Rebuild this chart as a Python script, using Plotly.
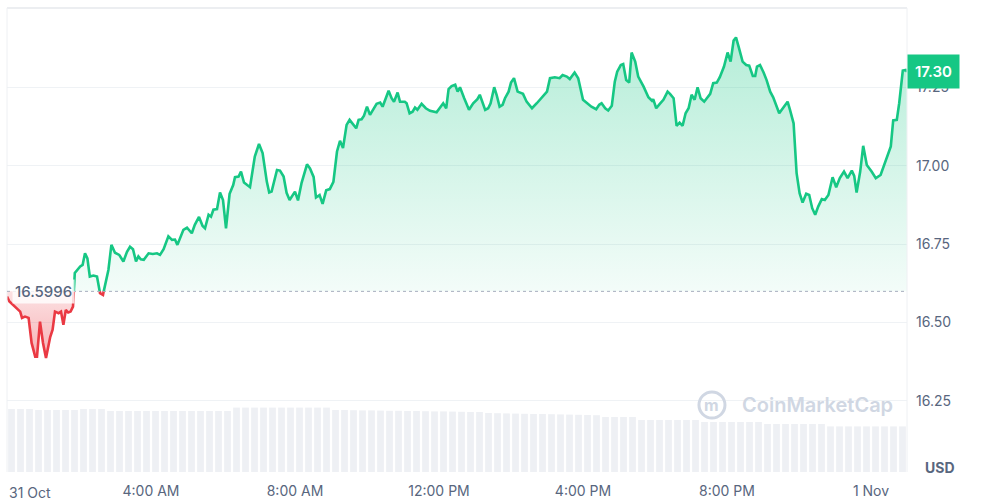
import pandas as pd
import plotly.graph_objects as go

# ---------------- data ----------------
start_time = "2024-10-31 00:00"
# minutes after 31 Oct 00:00
minutes = [0, 4, 22, 25, 30, 36, 41, 47, 50, 55, 60, 65, 72, 76, 80, 86, 90, 94, 98, 102,
           106, 110, 113, 122, 126, 130, 134, 138, 144, 150, 155, 160, 165, 169, 174, 180, 187, 194, 200, 205,
           210, 215, 219, 223, 228, 236, 243, 250, 255, 261, 269, 275, 280, 284, 294, 300, 308, 313, 320, 326,
           330, 336, 340, 344, 350, 355, 360, 365, 371, 377, 380, 386, 390, 395, 405, 413, 420, 426, 433, 437,
           441, 450, 455, 461, 466, 471, 480, 485, 491, 500, 505, 511, 515, 521, 526, 532, 538, 544, 550, 555,
           560, 566, 571, 576, 582, 586, 591, 595, 600, 605, 611, 616, 622, 626, 636, 641, 645, 651, 655, 663,
           666, 671, 676, 680, 684, 691, 698, 705, 716, 723, 727, 732, 736, 741, 747, 751, 755, 762, 770, 777,
           784, 788, 797, 802, 806, 812, 816, 821, 826, 830, 836, 840, 845, 851, 860, 866, 875, 883, 891, 900,
           905, 913, 921, 926, 933, 938, 946, 952, 960, 969, 974, 982, 987, 991, 997, 1002, 1008, 1013, 1017, 1023,
           1027, 1032, 1037, 1041, 1047, 1052, 1061, 1069, 1075, 1077, 1082, 1088, 1094, 1101, 1105, 1111, 1116, 1121, 1126, 1131,
           1136, 1141, 1146, 1151, 1156, 1162, 1167, 1172, 1177, 1183, 1188, 1195, 1201, 1206, 1211, 1215, 1220, 1226, 1232, 1237,
           1243, 1247, 1250, 1255, 1261, 1266, 1272, 1277, 1287, 1293, 1301, 1305, 1311, 1316, 1321, 1326, 1332, 1337, 1342, 1347,
           1352, 1358, 1363, 1369, 1376, 1382, 1388, 1395, 1401, 1408, 1412, 1416, 1422, 1427, 1433, 1441, 1448, 1456, 1461, 1466,
           1473, 1477, 1483, 1487, 1493, 1498, 1500]
prices = [16.583, 16.567, 16.535, 16.515, 16.519, 16.515, 16.435, 16.391, 16.391, 16.503, 16.435, 16.387, 16.454, 16.477, 16.535, 16.530, 16.535, 16.493, 16.540, 16.532,
          16.535, 16.551, 16.658, 16.679, 16.684, 16.721, 16.705, 16.647, 16.650, 16.647, 16.594, 16.588, 16.636, 16.668, 16.748, 16.723, 16.716, 16.695, 16.726, 16.742,
          16.734, 16.695, 16.711, 16.702, 16.700, 16.721, 16.719, 16.721, 16.716, 16.734, 16.775, 16.764, 16.765, 16.748, 16.796, 16.803, 16.785, 16.812, 16.837, 16.808,
          16.801, 16.844, 16.838, 16.860, 16.862, 16.915, 16.891, 16.801, 16.911, 16.939, 16.964, 16.966, 16.982, 16.947, 16.932, 17.030, 17.070, 17.041, 16.950, 16.915,
          16.918, 16.987, 16.985, 16.966, 16.914, 16.891, 16.918, 16.890, 16.946, 17.005, 16.992, 16.965, 16.899, 16.907, 16.879, 16.922, 16.926, 16.949, 17.046, 17.080,
          17.057, 17.131, 17.147, 17.134, 17.120, 17.147, 17.149, 17.160, 17.189, 17.163, 17.184, 17.198, 17.202, 17.189, 17.240, 17.216, 17.205, 17.234, 17.205, 17.205,
          17.200, 17.168, 17.173, 17.186, 17.179, 17.198, 17.184, 17.176, 17.171, 17.189, 17.200, 17.184, 17.245, 17.255, 17.259, 17.237, 17.251, 17.216, 17.179, 17.200,
          17.213, 17.227, 17.179, 17.184, 17.200, 17.251, 17.227, 17.189, 17.195, 17.216, 17.237, 17.266, 17.280, 17.237, 17.230, 17.205, 17.184, 17.200, 17.219, 17.237,
          17.280, 17.283, 17.280, 17.290, 17.285, 17.277, 17.298, 17.280, 17.211, 17.195, 17.189, 17.181, 17.195, 17.200, 17.184, 17.177, 17.192, 17.269, 17.301, 17.322,
          17.325, 17.274, 17.266, 17.362, 17.333, 17.285, 17.253, 17.219, 17.208, 17.213, 17.184, 17.198, 17.211, 17.237, 17.230, 17.216, 17.128, 17.138, 17.128, 17.168,
          17.184, 17.227, 17.211, 17.251, 17.216, 17.205, 17.219, 17.230, 17.264, 17.266, 17.283, 17.317, 17.362, 17.333, 17.400, 17.410, 17.376, 17.333, 17.322, 17.320,
          17.287, 17.287, 17.317, 17.322, 17.298, 17.274, 17.237, 17.219, 17.168, 17.184, 17.205, 17.179, 17.136, 16.977, 16.913, 16.883, 16.911, 16.907, 16.865, 16.844,
          16.870, 16.894, 16.891, 16.907, 16.964, 16.932, 16.961, 16.982, 16.961, 16.985, 16.968, 16.915, 16.982, 17.064, 17.003, 16.982, 16.961, 16.971, 16.998, 17.021,
          17.062, 17.145, 17.147, 17.200, 17.304, 17.306, 17.300]
open_price = 16.5996
last_price_label = "17.30"

# volume bars, one per 15 minutes (millions USD, approximate)
volume_step_min = 15
volumes = [31.5, 31.5, 31.5, 31.0, 31.0, 31.0, 31.0, 31.0, 31.5, 31.5,
           31.5, 30.5, 30.5, 30.5, 30.5, 30.5, 30.5, 30.5, 30.5, 30.5,
           30.5, 30.5, 30.5, 30.5, 30.5, 32.2, 32.2, 32.2, 32.2, 32.2,
           32.2, 32.2, 32.2, 32.2, 32.2, 32.2, 31.0, 31.0, 30.9, 30.8,
           30.8, 30.7, 30.6, 30.6, 30.5, 30.5, 30.4, 30.3, 30.3, 30.2,
           30.1, 30.0, 30.0, 29.5, 29.4, 29.3, 29.2, 29.1, 29.0, 29.0,
           28.9, 28.8, 28.7, 28.6, 28.5, 28.4, 27.5, 27.5, 27.5, 27.5,
           26.0, 26.0, 26.0, 26.0, 26.0, 26.0, 26.0, 25.0, 25.0, 25.0,
           25.0, 25.0, 25.0, 25.0, 24.0, 24.0, 24.0, 24.0, 24.0, 24.0,
           24.0, 22.8, 22.8, 22.8, 22.8, 22.8, 22.8, 22.8, 22.8, 22.8]

x_tick_hours = [4, 8, 12, 16, 20, 24]
x_tick_text = ["4:00 AM", "8:00 AM", "12:00 PM", "4:00 PM", "8:00 PM", "1 Nov"]
first_tick_text = "31 Oct"
y_tick_vals = [16.25, 16.50, 16.75, 17.00, 17.25]
y_range = [16.023, 17.504]
vol_range = [0, 232]

# ---------------- styling ----------------
GREEN = "#16c784"
RED = "#ea3943"
TXT = "#58667e"
GRID = "#eff2f5"
FONT = "Inter, 'Noto Sans', sans-serif"
WM = "#d0d7e3"

t0 = pd.Timestamp(start_time)

# split series at the open price (rendering only)
sx, sy = [], []
for i in range(len(prices)):
    if i > 0 and (prices[i - 1] - open_price) * (prices[i] - open_price) < 0:
        t = (open_price - prices[i - 1]) / (prices[i] - prices[i - 1])
        sx.append(minutes[i - 1] + t * (minutes[i] - minutes[i - 1]))
        sy.append(open_price)
    sx.append(minutes[i])
    sy.append(prices[i])

times = [t0 + pd.Timedelta(minutes=m) for m in sx]
up_line = [y if y >= open_price else None for y in sy]
dn_line = [y if y <= open_price else None for y in sy]
up_fill = [max(y, open_price) for y in sy]
dn_fill = [min(y, open_price) for y in sy]
base = [open_price] * len(sy)

vol_times = [t0 + pd.Timedelta(minutes=volume_step_min * (i + 0.5)) for i in range(len(volumes))]

fig = go.Figure()

fig.add_trace(go.Bar(x=vol_times, y=volumes, yaxis="y2", marker_color="#eef0f4",
                     marker_line_width=0, hoverinfo="skip", showlegend=False))

fig.add_trace(go.Scatter(x=times, y=base, mode="lines", line=dict(width=0),
                         hoverinfo="skip", showlegend=False))
fig.add_trace(go.Scatter(x=times, y=up_fill, mode="lines", line=dict(width=0), fill="tonexty",
                         fillgradient=dict(type="vertical", start=open_price, stop=17.45,
                                           colorscale=[[0, "rgba(22,199,132,0.05)"],
                                                       [1, "rgba(22,199,132,0.33)"]]),
                         hoverinfo="skip", showlegend=False))
fig.add_trace(go.Scatter(x=times, y=base, mode="lines", line=dict(width=0),
                         hoverinfo="skip", showlegend=False))
fig.add_trace(go.Scatter(x=times, y=dn_fill, mode="lines", line=dict(width=0), fill="tonexty",
                         fillgradient=dict(type="vertical", start=16.38, stop=open_price,
                                           colorscale=[[0, "rgba(234,57,67,0.40)"],
                                                       [1, "rgba(234,57,67,0.15)"]]),
                         hoverinfo="skip", showlegend=False))

fig.add_trace(go.Scatter(x=times, y=up_line, mode="lines", connectgaps=False,
                         line=dict(color=GREEN, width=2.6), showlegend=False))
fig.add_trace(go.Scatter(x=times, y=dn_line, mode="lines", connectgaps=False,
                         line=dict(color=RED, width=2.6), showlegend=False))

x_end = t0 + pd.Timedelta(minutes=minutes[-1])

fig.update_layout(
    width=1005, height=504,
    margin=dict(l=7, r=98, t=8, b=32, autoexpand=False),
    paper_bgcolor="white", plot_bgcolor="white",
    font=dict(family=FONT, color=TXT, size=14),
    bargap=0.25,
    hovermode=False,
    xaxis=dict(type="date", range=[t0, x_end], automargin=False,
               tickvals=[t0 + pd.Timedelta(hours=h) for h in x_tick_hours],
               ticktext=x_tick_text, showgrid=False, zeroline=False, showline=False,
               ticks="", tickfont=dict(size=14, color=TXT), ticklabelstandoff=9),
    yaxis=dict(side="right", range=y_range, tickvals=y_tick_vals, automargin=False,
               ticktext=[f"{v:.2f}" for v in y_tick_vals],
               showgrid=True, gridcolor=GRID, gridwidth=1, zeroline=False, showline=False,
               ticks="", tickfont=dict(size=14, color=TXT), ticklabelstandoff=8),
    yaxis2=dict(overlaying="y", range=vol_range, visible=False, automargin=False),
)

# frame lines
fig.add_shape(type="line", xref="paper", yref="paper", x0=0, x1=1, y0=1, y1=1,
              line=dict(color="#e6e9ed", width=1.5))
fig.add_shape(type="line", xref="paper", yref="paper", x0=0, x1=0, y0=0, y1=1,
              line=dict(color="#eef0f3", width=1))
fig.add_shape(type="line", xref="paper", yref="paper", x0=1, x1=1, y0=0, y1=1,
              line=dict(color="#eef0f3", width=1))

# dotted open-price line
fig.add_shape(type="line", xref="paper", yref="y", x0=0, x1=1, y0=open_price, y1=open_price,
              line=dict(color="#a6adbd", width=1, dash="dot"), layer="above")

annotations = [
    dict(x=0, xref="paper", y=open_price, yref="y", text=f"{open_price}", showarrow=False,
         xanchor="left", yanchor="middle", xshift=5, bgcolor="rgba(255,255,255,0.8)",
         font=dict(size=15, color=TXT, family=FONT, weight=500), borderpad=2),
    dict(x=1, xref="paper", y=prices[-1], yref="y", text=last_price_label, showarrow=False,
         xanchor="left", yanchor="middle", bgcolor=GREEN, borderpad=7,
         font=dict(size=15, color="white", family=FONT, weight=600)),
    dict(x=t0, xref="x", y=0, yref="paper", text=first_tick_text, showarrow=False,
         xanchor="left", yanchor="middle", yshift=-20, xshift=0,
         font=dict(size=14, color=TXT, family=FONT)),
    dict(x=1, xref="paper", y=0, yref="paper", text="USD", showarrow=False,
         xanchor="left", yanchor="middle", xshift=16, yshift=5,
         font=dict(size=14, color=TXT, family=FONT, weight=700)),
    dict(x=0.8144, xref="paper", y=0.1444, yref="paper", text="CoinMarketCap", showarrow=False,
         xanchor="left", yanchor="middle",
         font=dict(size=20, color=WM, family=FONT, weight=600)),
    dict(x=0.7833, xref="paper", y=0.1444, yref="paper", text="m", showarrow=False,
         xanchor="center", yanchor="middle",
         font=dict(size=16, color=WM, family=FONT, weight=700)),
]
fig.update_layout(annotations=annotations)

fig.add_shape(type="circle", xref="paper", yref="paper", xsizemode="pixel", ysizemode="pixel",
              xanchor=0.7833, yanchor=0.1444, x0=-13, x1=13, y0=-13, y1=13,
              line=dict(color=WM, width=3))

fig.write_html("out.html", config={"displayModeBar": False},
               post_script="document.body.style.margin='0';document.body.style.padding='0';")
